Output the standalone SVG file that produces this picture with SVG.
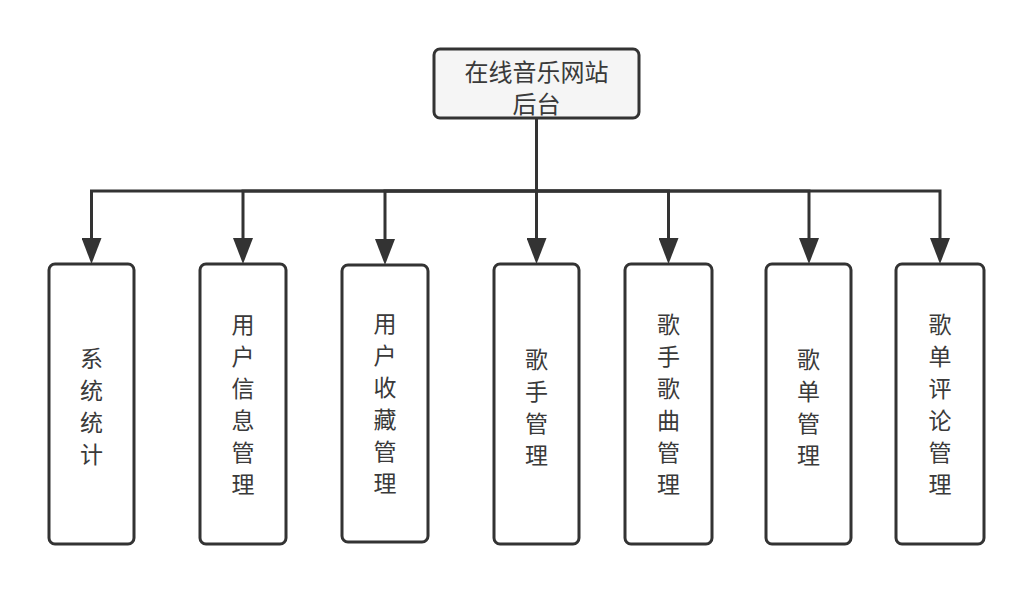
<svg xmlns="http://www.w3.org/2000/svg" width="1034" height="594" viewBox="0 0 1034 594">
<style>
.box{fill:#ffffff;stroke:#333333;stroke-width:3}
.root{fill:#f5f5f5;stroke:#333333;stroke-width:3}
.lbl{font-family:"Microsoft YaHei","Noto Sans CJK SC",sans-serif;font-size:23px;fill:#3a3a3a;text-anchor:middle;dominant-baseline:central}
.top{font-size:24px}
.edge{fill:none;stroke:#333333;stroke-width:3}
</style>
<defs>
<marker id="arrow" markerUnits="userSpaceOnUse" viewBox="0 0 26 20" refX="0" refY="10" markerWidth="26" markerHeight="20" orient="auto">
<path d="M0,0 L26,10 L0,20 Z" fill="#333333"/>
</marker>
</defs>
<rect width="1034" height="594" fill="#ffffff"/>
<g id="connectors">
<path class="edge" d="M536.5,118 V191 H91.5 V238" marker-end="url(#arrow)"/>
<path class="edge" d="M536.5,118 V191 H243 V238" marker-end="url(#arrow)"/>
<path class="edge" d="M536.5,118 V191 H385 V239" marker-end="url(#arrow)"/>
<path class="edge" d="M536.5,118 V191 H536.5 V238" marker-end="url(#arrow)"/>
<path class="edge" d="M536.5,118 V191 H668.5 V238" marker-end="url(#arrow)"/>
<path class="edge" d="M536.5,118 V191 H809 V238" marker-end="url(#arrow)"/>
<path class="edge" d="M536.5,118 V191 H940 V238" marker-end="url(#arrow)"/>
</g>
<g id="root">
<rect class="root" x="434" y="49" width="205" height="69" rx="6"/>
<text class="lbl top" x="536.5"><tspan x="536.5" y="70">在线音乐网站</tspan><tspan x="536.5" y="102">后台</tspan></text>
</g>
<g id="n1">
<rect class="box" x="49" y="264" width="85" height="280" rx="6"/>
<text class="lbl" x="91.5"><tspan x="91.5" y="357">系</tspan><tspan x="91.5" y="389">统</tspan><tspan x="91.5" y="421">统</tspan><tspan x="91.5" y="453">计</tspan></text>
</g>
<g id="n2">
<rect class="box" x="200" y="264" width="86" height="280" rx="6"/>
<text class="lbl" x="243"><tspan x="243" y="323">用</tspan><tspan x="243" y="355">户</tspan><tspan x="243" y="387">信</tspan><tspan x="243" y="419">息</tspan><tspan x="243" y="451">管</tspan><tspan x="243" y="483">理</tspan></text>
</g>
<g id="n3">
<rect class="box" x="342" y="265" width="86" height="277" rx="6"/>
<text class="lbl" x="385"><tspan x="385" y="322">用</tspan><tspan x="385" y="354">户</tspan><tspan x="385" y="386">收</tspan><tspan x="385" y="418">藏</tspan><tspan x="385" y="450">管</tspan><tspan x="385" y="482">理</tspan></text>
</g>
<g id="n4">
<rect class="box" x="494" y="264" width="85" height="280" rx="6"/>
<text class="lbl" x="536.5"><tspan x="536.5" y="358">歌</tspan><tspan x="536.5" y="390">手</tspan><tspan x="536.5" y="422">管</tspan><tspan x="536.5" y="454">理</tspan></text>
</g>
<g id="n5">
<rect class="box" x="625" y="264" width="87" height="280" rx="6"/>
<text class="lbl" x="668.5"><tspan x="668.5" y="323">歌</tspan><tspan x="668.5" y="355">手</tspan><tspan x="668.5" y="387">歌</tspan><tspan x="668.5" y="419">曲</tspan><tspan x="668.5" y="451">管</tspan><tspan x="668.5" y="483">理</tspan></text>
</g>
<g id="n6">
<rect class="box" x="766" y="264" width="85" height="280" rx="6"/>
<text class="lbl" x="808.5"><tspan x="808.5" y="358">歌</tspan><tspan x="808.5" y="390">单</tspan><tspan x="808.5" y="422">管</tspan><tspan x="808.5" y="454">理</tspan></text>
</g>
<g id="n7">
<rect class="box" x="896" y="264" width="88" height="280" rx="6"/>
<text class="lbl" x="940"><tspan x="940" y="323">歌</tspan><tspan x="940" y="355">单</tspan><tspan x="940" y="387">评</tspan><tspan x="940" y="419">论</tspan><tspan x="940" y="451">管</tspan><tspan x="940" y="483">理</tspan></text>
</g>
</svg>
